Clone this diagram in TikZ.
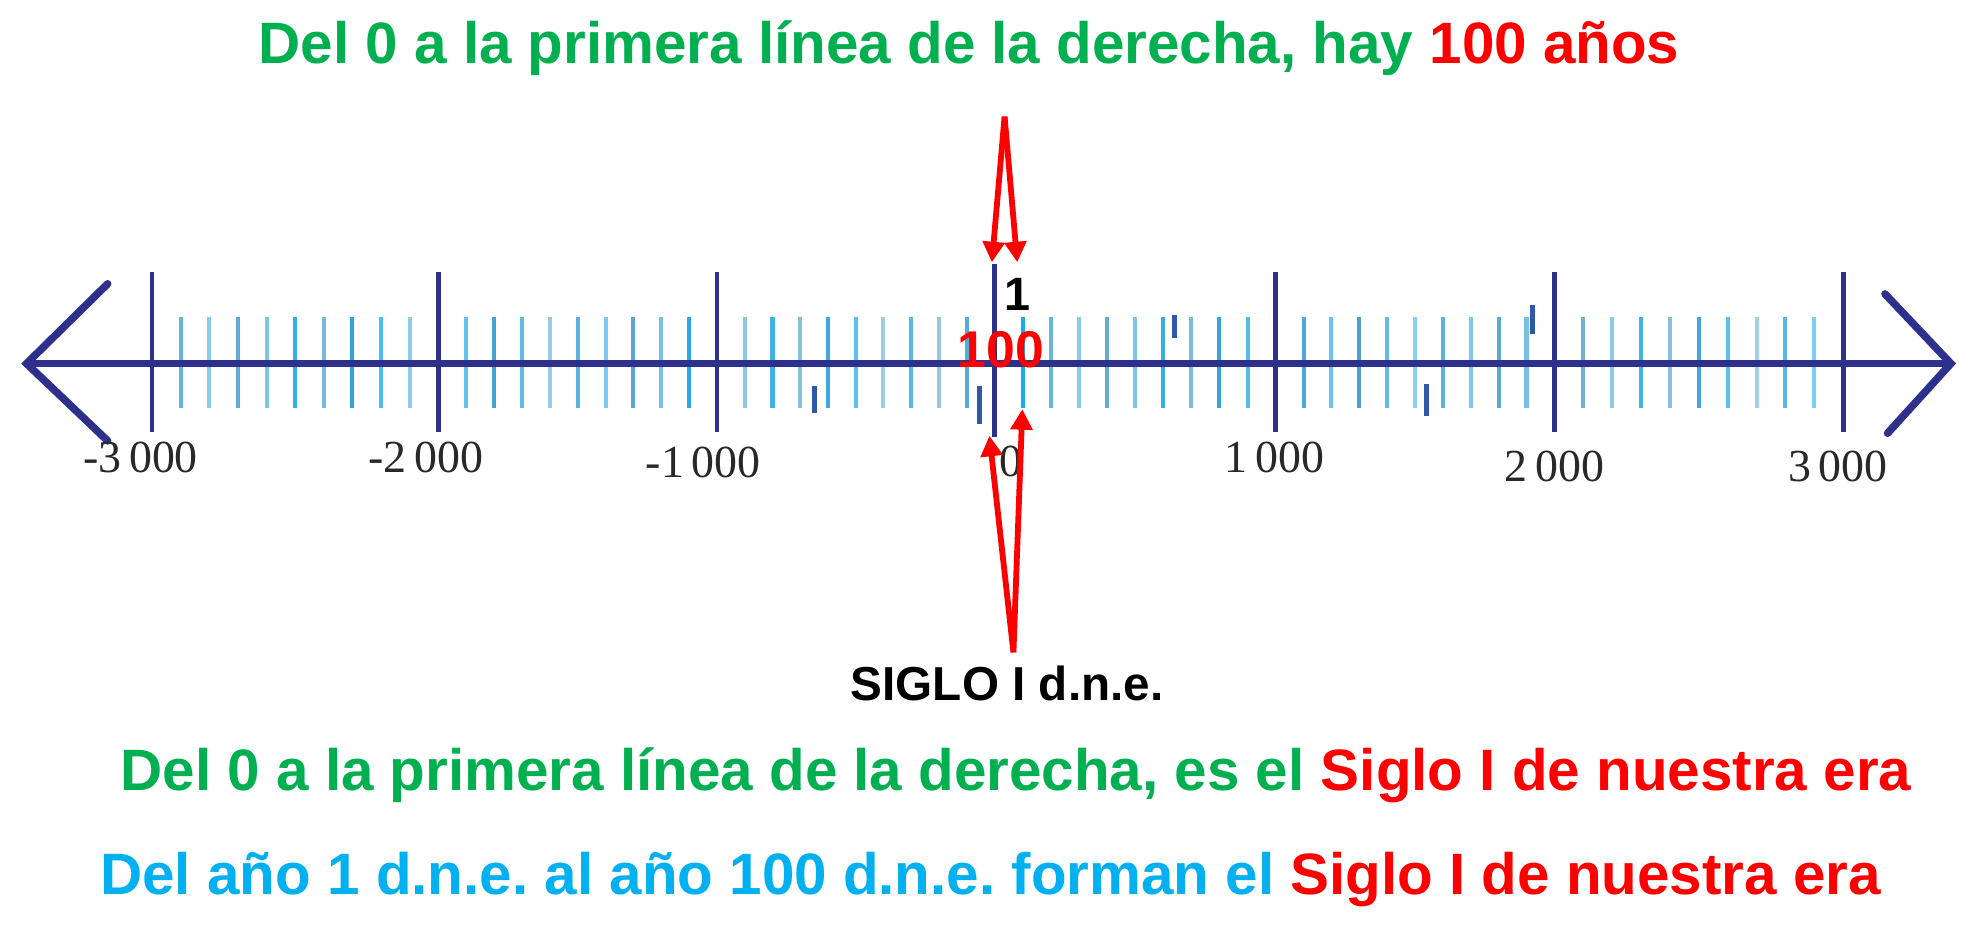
\documentclass[tikz,border=0pt]{standalone}
\usepackage{fontspec}
\setmainfont{Liberation Sans}
\newfontfamily\numfont{Liberation Serif}
\usetikzlibrary{arrows.meta}
\frenchspacing
\definecolor{navy}{RGB}{46,49,140}
\definecolor{markblue}{RGB}{48,88,170}
\definecolor{tA}{RGB}{25,170,235}
\definecolor{tB}{RGB}{80,155,195}
\definecolor{tgreen}{RGB}{0,176,80}
\definecolor{tred}{RGB}{255,0,0}
\definecolor{tblue}{RGB}{0,176,240}
\definecolor{numgray}{RGB}{40,40,40}
\begin{document}
\begin{tikzpicture}[x=0.01cm,y=-0.01cm,
  axisline/.style={draw=navy,line width=1.5pt},
  headline/.style={draw=navy,line width=1.7pt,line cap=round,line join=miter},
  majortick/.style={draw=navy,line width=1.1pt},
  minortick/.style={line width=0.9pt},
  marktick/.style={draw=markblue,line width=1.1pt},
  redarrow/.style={draw=tred,line width=1.3pt,-{Triangle[length=4.6pt,width=4.8pt]}},
  bigtext/.style={inner sep=0pt,anchor=base,font=\fontsize{13.1pt}{15pt}\selectfont\bfseries},
  yearlabel/.style={inner sep=0pt,anchor=base,text=numgray,font=\numfont\fontsize{10.3pt}{12pt}\selectfont},
  ticklabel/.style={inner sep=0pt,anchor=base,font=\fontsize{10.5pt}{12pt}\selectfont\bfseries}]
\useasboundingbox[fill=white] (0,0) rectangle (1563,738);
\def\majx{{120,346,566,785,1007,1227,1455}}
% minor ticks
\foreach \s in {0,...,5}{
  \foreach \k in {1,...,9}{
    \pgfmathsetmacro\xa{\majx[\s]}
    \pgfmathsetmacro\xb{\majx[\s+1]}
    \pgfmathsetmacro\xx{\xa+(\xb-\xa)*\k/10}
    \pgfmathtruncatemacro\pa{mod(\k*37+\s*53,100)}
    \pgfmathtruncatemacro\pb{50+mod(\k*29+\s*41,51)}
    \draw[minortick,draw=tA!\pa!tB!\pb!white] (\xx,250) -- (\xx,322);
  }
}
% axis
\coordinate (ltip) at (21,287);
\coordinate (rtip) at (1540,287);
\coordinate (lup) at (85,224);
\coordinate (ldn) at (85,348);
\coordinate (rup) at (1488,232);
\coordinate (rdn) at (1490,342);
\draw[axisline] (ltip) -- (rtip);
\draw[headline] (lup) -- (ltip) -- (ldn);
\draw[headline] (rup) -- (rtip) -- (rdn);
% major ticks
\foreach \x in {120,346,566,1007,1227,1455}{
  \draw[majortick] (\x,215) -- (\x,341);
}
\draw[majortick] (785,208) -- (785,345);
% extra marks
\draw[marktick] (643,305) -- (643,326);
\draw[marktick] (773,305) -- (773,335);
\draw[marktick] (927,249) -- (927,267);
\draw[marktick] (1126,303) -- (1126,328);
\draw[marktick] (1210,241) -- (1210,264);
% year labels
\node[yearlabel] (lm3) at (111,373) {-3\,000};
\node[yearlabel] (lm2) at (336,373) {-2\,000};
\node[yearlabel] (lm1) at (555,377) {-1\,000};
\node[yearlabel] (l0)  at (798,376) {0};
\node[yearlabel] (l1)  at (1006,373) {1\,000};
\node[yearlabel] (l2)  at (1227,380) {2\,000};
\node[yearlabel] (l3)  at (1451,380) {3\,000};
% labels at zero
\node[ticklabel,text=black] (one) at (803,245) {1};
\node[ticklabel,text=tred,font=\fontsize{11.6pt}{13pt}\selectfont\bfseries] (hundred) at (790,290) {100};
% red arrows
\coordinate (topapex) at (793,92);
\coordinate (toptipL) at (783,207);
\coordinate (toptipR) at (803,207);
\coordinate (botapex) at (800,515);
\coordinate (bottipL) at (781,344);
\coordinate (bottipR) at (807,323);
\draw[redarrow] (topapex) -- (toptipL);
\draw[redarrow] (topapex) -- (toptipR);
\draw[redarrow] (botapex) -- (bottipL);
\draw[redarrow] (botapex) -- (bottipR);
% texts
\node[bigtext] (title) at (765,50) {\textcolor{tgreen}{Del 0 a la primera línea de la derecha, hay} \textcolor{tred}{100 años}};
\node[inner sep=0pt,anchor=base,font=\fontsize{10.7pt}{12pt}\selectfont\bfseries] (siglo) at (795,553) {SIGLO I d.n.e.};
\node[bigtext] (line2) at (802,624) {\textcolor{tgreen}{Del 0 a la primera línea de la derecha, es el} \textcolor{tred}{Siglo I de nuestra era}};
\node[bigtext] (line3) at (782,706) {\textcolor{tblue}{Del año 1 d.n.e. al año 100 d.n.e. forman el} \textcolor{tred}{Siglo I de nuestra era}};
\end{tikzpicture}
\end{document}
